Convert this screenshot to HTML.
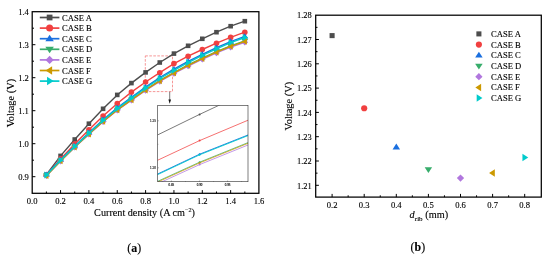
<!DOCTYPE html>
<html><head><meta charset="utf-8"><title>Figure</title>
<style>html,body{margin:0;padding:0;background:#fff;}body{width:550px;height:258px;overflow:hidden;font-family:"Liberation Serif",serif;}</style></head>
<body>
<svg width="550" height="258" viewBox="0 0 550 258" style="display:block">
<rect width="550" height="258" fill="#fff"/>
<rect x="145.3" y="55.9" width="27.2" height="35.7" fill="none" stroke="#f47c7c" stroke-width="0.8" stroke-dasharray="2.6,1.4"/>
<polyline points="46.38,174.60 60.55,155.90 74.73,139.50 88.90,123.70 103.08,108.80 117.25,94.90 131.43,83.10 145.60,72.40 159.78,62.50 173.95,53.60 188.12,45.80 202.30,38.80 216.48,32.20 230.65,26.20 244.82,21.20" fill="none" stroke="#4d4d4d" stroke-width="1.4"/>
<rect x="44.08" y="172.30" width="4.60" height="4.60" fill="#4d4d4d"/>
<rect x="58.25" y="153.60" width="4.60" height="4.60" fill="#4d4d4d"/>
<rect x="72.43" y="137.20" width="4.60" height="4.60" fill="#4d4d4d"/>
<rect x="86.60" y="121.40" width="4.60" height="4.60" fill="#4d4d4d"/>
<rect x="100.78" y="106.50" width="4.60" height="4.60" fill="#4d4d4d"/>
<rect x="114.95" y="92.60" width="4.60" height="4.60" fill="#4d4d4d"/>
<rect x="129.12" y="80.80" width="4.60" height="4.60" fill="#4d4d4d"/>
<rect x="143.30" y="70.10" width="4.60" height="4.60" fill="#4d4d4d"/>
<rect x="157.47" y="60.20" width="4.60" height="4.60" fill="#4d4d4d"/>
<rect x="171.65" y="51.30" width="4.60" height="4.60" fill="#4d4d4d"/>
<rect x="185.82" y="43.50" width="4.60" height="4.60" fill="#4d4d4d"/>
<rect x="200.00" y="36.50" width="4.60" height="4.60" fill="#4d4d4d"/>
<rect x="214.18" y="29.90" width="4.60" height="4.60" fill="#4d4d4d"/>
<rect x="228.35" y="23.90" width="4.60" height="4.60" fill="#4d4d4d"/>
<rect x="242.52" y="18.90" width="4.60" height="4.60" fill="#4d4d4d"/>
<polyline points="46.38,174.80 60.55,158.90 74.73,144.10 88.90,129.80 103.08,116.00 117.25,103.50 131.43,92.10 145.60,82.00 159.78,72.70 173.95,63.60 188.12,56.20 202.30,49.50 216.48,43.20 230.65,37.40 244.82,32.20" fill="none" stroke="#f14040" stroke-width="1.4"/>
<circle cx="46.38" cy="174.80" r="2.80" fill="#f14040"/>
<circle cx="60.55" cy="158.90" r="2.80" fill="#f14040"/>
<circle cx="74.73" cy="144.10" r="2.80" fill="#f14040"/>
<circle cx="88.90" cy="129.80" r="2.80" fill="#f14040"/>
<circle cx="103.08" cy="116.00" r="2.80" fill="#f14040"/>
<circle cx="117.25" cy="103.50" r="2.80" fill="#f14040"/>
<circle cx="131.43" cy="92.10" r="2.80" fill="#f14040"/>
<circle cx="145.60" cy="82.00" r="2.80" fill="#f14040"/>
<circle cx="159.78" cy="72.70" r="2.80" fill="#f14040"/>
<circle cx="173.95" cy="63.60" r="2.80" fill="#f14040"/>
<circle cx="188.12" cy="56.20" r="2.80" fill="#f14040"/>
<circle cx="202.30" cy="49.50" r="2.80" fill="#f14040"/>
<circle cx="216.48" cy="43.20" r="2.80" fill="#f14040"/>
<circle cx="230.65" cy="37.40" r="2.80" fill="#f14040"/>
<circle cx="244.82" cy="32.20" r="2.80" fill="#f14040"/>
<polyline points="46.38,174.72 60.55,160.03 74.73,146.12 88.90,132.83 103.08,119.81 117.25,107.89 131.43,97.37 145.60,87.14 159.78,77.52 173.95,69.20 188.12,61.40 202.30,54.30 216.48,47.70 230.65,41.60 244.82,36.40" fill="none" stroke="#1a6fdf" stroke-width="1.4"/>
<polygon points="46.38,171.50 42.98,176.76 49.77,176.76" fill="#1a6fdf"/>
<polygon points="60.55,156.80 57.15,162.06 63.95,162.06" fill="#1a6fdf"/>
<polygon points="74.73,142.90 71.33,148.16 78.13,148.16" fill="#1a6fdf"/>
<polygon points="88.90,129.60 85.50,134.87 92.30,134.87" fill="#1a6fdf"/>
<polygon points="103.08,116.58 99.67,121.85 106.48,121.85" fill="#1a6fdf"/>
<polygon points="117.25,104.66 113.85,109.93 120.65,109.93" fill="#1a6fdf"/>
<polygon points="131.43,94.14 128.03,99.41 134.83,99.41" fill="#1a6fdf"/>
<polygon points="145.60,83.91 142.20,89.18 149.00,89.18" fill="#1a6fdf"/>
<polygon points="159.78,74.29 156.38,79.56 163.18,79.56" fill="#1a6fdf"/>
<polygon points="173.95,65.97 170.55,71.24 177.35,71.24" fill="#1a6fdf"/>
<polygon points="188.12,58.17 184.72,63.44 191.53,63.44" fill="#1a6fdf"/>
<polygon points="202.30,51.07 198.90,56.34 205.70,56.34" fill="#1a6fdf"/>
<polygon points="216.48,44.47 213.08,49.74 219.88,49.74" fill="#1a6fdf"/>
<polygon points="230.65,38.37 227.25,43.64 234.05,43.64" fill="#1a6fdf"/>
<polygon points="244.82,33.17 241.42,38.44 248.22,38.44" fill="#1a6fdf"/>
<polyline points="46.38,175.55 60.55,160.85 74.73,146.95 88.90,133.93 103.08,121.28 117.25,109.72 131.43,99.57 145.60,89.71 159.78,80.46 173.95,72.50 188.12,64.92 202.30,58.04 216.48,51.66 230.65,45.78 244.82,40.80" fill="none" stroke="#37ad6b" stroke-width="1.4"/>
<polygon points="46.38,178.78 42.98,173.51 49.77,173.51" fill="#37ad6b"/>
<polygon points="60.55,164.08 57.15,158.81 63.95,158.81" fill="#37ad6b"/>
<polygon points="74.73,150.18 71.33,144.91 78.13,144.91" fill="#37ad6b"/>
<polygon points="88.90,137.16 85.50,131.89 92.30,131.89" fill="#37ad6b"/>
<polygon points="103.08,124.51 99.67,119.24 106.48,119.24" fill="#37ad6b"/>
<polygon points="117.25,112.95 113.85,107.68 120.65,107.68" fill="#37ad6b"/>
<polygon points="131.43,102.80 128.03,97.53 134.83,97.53" fill="#37ad6b"/>
<polygon points="145.60,92.94 142.20,87.67 149.00,87.67" fill="#37ad6b"/>
<polygon points="159.78,83.69 156.38,78.42 163.18,78.42" fill="#37ad6b"/>
<polygon points="173.95,75.73 170.55,70.46 177.35,70.46" fill="#37ad6b"/>
<polygon points="188.12,68.15 184.72,62.88 191.53,62.88" fill="#37ad6b"/>
<polygon points="202.30,61.27 198.90,56.00 205.70,56.00" fill="#37ad6b"/>
<polygon points="216.48,54.89 213.08,49.62 219.88,49.62" fill="#37ad6b"/>
<polygon points="230.65,49.01 227.25,43.74 234.05,43.74" fill="#37ad6b"/>
<polygon points="244.82,44.03 241.42,38.76 248.22,38.76" fill="#37ad6b"/>
<polyline points="46.38,175.80 60.55,161.10 74.73,147.20 88.90,134.27 103.08,121.72 117.25,110.28 131.43,100.23 145.60,90.49 159.78,81.34 173.95,73.50 188.12,66.02 202.30,59.24 216.48,52.96 230.65,47.18 244.82,42.30" fill="none" stroke="#b177de" stroke-width="1.4"/>
<polygon points="46.38,172.50 49.67,175.80 46.38,179.10 43.08,175.80" fill="#b177de"/>
<polygon points="60.55,157.80 63.85,161.10 60.55,164.40 57.25,161.10" fill="#b177de"/>
<polygon points="74.73,143.90 78.03,147.20 74.73,150.50 71.43,147.20" fill="#b177de"/>
<polygon points="88.90,130.97 92.20,134.27 88.90,137.57 85.60,134.27" fill="#b177de"/>
<polygon points="103.08,118.42 106.38,121.72 103.08,125.02 99.78,121.72" fill="#b177de"/>
<polygon points="117.25,106.98 120.55,110.28 117.25,113.58 113.95,110.28" fill="#b177de"/>
<polygon points="131.43,96.93 134.73,100.23 131.43,103.53 128.12,100.23" fill="#b177de"/>
<polygon points="145.60,87.19 148.90,90.49 145.60,93.79 142.30,90.49" fill="#b177de"/>
<polygon points="159.78,78.04 163.08,81.34 159.78,84.64 156.47,81.34" fill="#b177de"/>
<polygon points="173.95,70.20 177.25,73.50 173.95,76.80 170.65,73.50" fill="#b177de"/>
<polygon points="188.12,62.72 191.43,66.02 188.12,69.32 184.82,66.02" fill="#b177de"/>
<polygon points="202.30,55.94 205.60,59.24 202.30,62.54 199.00,59.24" fill="#b177de"/>
<polygon points="216.48,49.66 219.78,52.96 216.48,56.26 213.18,52.96" fill="#b177de"/>
<polygon points="230.65,43.88 233.95,47.18 230.65,50.48 227.35,47.18" fill="#b177de"/>
<polygon points="244.82,39.00 248.12,42.30 244.82,45.60 241.52,42.30" fill="#b177de"/>
<polyline points="46.38,175.65 60.55,160.95 74.73,147.05 88.90,134.07 103.08,121.46 117.25,109.94 131.43,99.83 145.60,90.02 159.78,80.81 173.95,72.90 188.12,65.36 202.30,58.52 216.48,52.18 230.65,46.34 244.82,41.40" fill="none" stroke="#cc9900" stroke-width="1.4"/>
<polygon points="43.15,175.65 48.41,172.25 48.41,179.05" fill="#cc9900"/>
<polygon points="57.32,160.95 62.59,157.55 62.59,164.35" fill="#cc9900"/>
<polygon points="71.50,147.05 76.77,143.65 76.77,150.45" fill="#cc9900"/>
<polygon points="85.67,134.07 90.94,130.67 90.94,137.47" fill="#cc9900"/>
<polygon points="99.84,121.46 105.12,118.06 105.12,124.86" fill="#cc9900"/>
<polygon points="114.02,109.94 119.29,106.54 119.29,113.34" fill="#cc9900"/>
<polygon points="128.20,99.83 133.47,96.43 133.47,103.23" fill="#cc9900"/>
<polygon points="142.37,90.02 147.64,86.62 147.64,93.42" fill="#cc9900"/>
<polygon points="156.55,80.81 161.81,77.41 161.81,84.21" fill="#cc9900"/>
<polygon points="170.72,72.90 175.99,69.50 175.99,76.30" fill="#cc9900"/>
<polygon points="184.90,65.36 190.16,61.96 190.16,68.76" fill="#cc9900"/>
<polygon points="199.07,58.52 204.34,55.12 204.34,61.92" fill="#cc9900"/>
<polygon points="213.25,52.18 218.52,48.78 218.52,55.58" fill="#cc9900"/>
<polygon points="227.42,46.34 232.69,42.94 232.69,49.74" fill="#cc9900"/>
<polygon points="241.59,41.40 246.86,38.00 246.86,44.80" fill="#cc9900"/>
<polyline points="46.38,175.00 60.55,160.30 74.73,146.40 88.90,133.20 103.08,120.30 117.25,108.50 131.43,98.10 145.60,88.00 159.78,78.50 173.95,70.30 188.12,62.50 202.30,55.40 216.48,48.80 230.65,42.70 244.82,37.50" fill="none" stroke="#00cbcc" stroke-width="1.4"/>
<polygon points="49.60,175.00 44.34,171.60 44.34,178.40" fill="#00cbcc"/>
<polygon points="63.78,160.30 58.51,156.90 58.51,163.70" fill="#00cbcc"/>
<polygon points="77.96,146.40 72.69,143.00 72.69,149.80" fill="#00cbcc"/>
<polygon points="92.13,133.20 86.86,129.80 86.86,136.60" fill="#00cbcc"/>
<polygon points="106.31,120.30 101.03,116.90 101.03,123.70" fill="#00cbcc"/>
<polygon points="120.48,108.50 115.21,105.10 115.21,111.90" fill="#00cbcc"/>
<polygon points="134.66,98.10 129.39,94.70 129.39,101.50" fill="#00cbcc"/>
<polygon points="148.83,88.00 143.56,84.60 143.56,91.40" fill="#00cbcc"/>
<polygon points="163.00,78.50 157.74,75.10 157.74,81.90" fill="#00cbcc"/>
<polygon points="177.18,70.30 171.91,66.90 171.91,73.70" fill="#00cbcc"/>
<polygon points="191.35,62.50 186.09,59.10 186.09,65.90" fill="#00cbcc"/>
<polygon points="205.53,55.40 200.26,52.00 200.26,58.80" fill="#00cbcc"/>
<polygon points="219.71,48.80 214.44,45.40 214.44,52.20" fill="#00cbcc"/>
<polygon points="233.88,42.70 228.61,39.30 228.61,46.10" fill="#00cbcc"/>
<polygon points="248.05,37.50 242.78,34.10 242.78,40.90" fill="#00cbcc"/>
<line x1="169.7" y1="91.8" x2="169.7" y2="101" stroke="#222" stroke-width="0.6"/>
<polygon points="169.7,103.8 168.4,99.6 171.0,99.6" fill="#111"/>
<rect x="32.2" y="11.7" width="226.70" height="181.60" fill="none" stroke="#000" stroke-width="1.25"/>
<text x="32.20" y="204.2" font-size="8.6" text-anchor="middle" font-family="'Liberation Serif', serif" stroke="#000" stroke-width="0.12">0.0</text>
<line x1="46.38" y1="193.3" x2="46.38" y2="191.5" stroke="#000" stroke-width="1"/>
<line x1="60.55" y1="193.3" x2="60.55" y2="190.10000000000002" stroke="#000" stroke-width="1"/>
<text x="60.55" y="204.2" font-size="8.6" text-anchor="middle" font-family="'Liberation Serif', serif" stroke="#000" stroke-width="0.12">0.2</text>
<line x1="74.73" y1="193.3" x2="74.73" y2="191.5" stroke="#000" stroke-width="1"/>
<line x1="88.90" y1="193.3" x2="88.90" y2="190.10000000000002" stroke="#000" stroke-width="1"/>
<text x="88.90" y="204.2" font-size="8.6" text-anchor="middle" font-family="'Liberation Serif', serif" stroke="#000" stroke-width="0.12">0.4</text>
<line x1="103.08" y1="193.3" x2="103.08" y2="191.5" stroke="#000" stroke-width="1"/>
<line x1="117.25" y1="193.3" x2="117.25" y2="190.10000000000002" stroke="#000" stroke-width="1"/>
<text x="117.25" y="204.2" font-size="8.6" text-anchor="middle" font-family="'Liberation Serif', serif" stroke="#000" stroke-width="0.12">0.6</text>
<line x1="131.43" y1="193.3" x2="131.43" y2="191.5" stroke="#000" stroke-width="1"/>
<line x1="145.60" y1="193.3" x2="145.60" y2="190.10000000000002" stroke="#000" stroke-width="1"/>
<text x="145.60" y="204.2" font-size="8.6" text-anchor="middle" font-family="'Liberation Serif', serif" stroke="#000" stroke-width="0.12">0.8</text>
<line x1="159.78" y1="193.3" x2="159.78" y2="191.5" stroke="#000" stroke-width="1"/>
<line x1="173.95" y1="193.3" x2="173.95" y2="190.10000000000002" stroke="#000" stroke-width="1"/>
<text x="173.95" y="204.2" font-size="8.6" text-anchor="middle" font-family="'Liberation Serif', serif" stroke="#000" stroke-width="0.12">1.0</text>
<line x1="188.12" y1="193.3" x2="188.12" y2="191.5" stroke="#000" stroke-width="1"/>
<line x1="202.30" y1="193.3" x2="202.30" y2="190.10000000000002" stroke="#000" stroke-width="1"/>
<text x="202.30" y="204.2" font-size="8.6" text-anchor="middle" font-family="'Liberation Serif', serif" stroke="#000" stroke-width="0.12">1.2</text>
<line x1="216.48" y1="193.3" x2="216.48" y2="191.5" stroke="#000" stroke-width="1"/>
<line x1="230.65" y1="193.3" x2="230.65" y2="190.10000000000002" stroke="#000" stroke-width="1"/>
<text x="230.65" y="204.2" font-size="8.6" text-anchor="middle" font-family="'Liberation Serif', serif" stroke="#000" stroke-width="0.12">1.4</text>
<line x1="244.83" y1="193.3" x2="244.83" y2="191.5" stroke="#000" stroke-width="1"/>
<text x="259.00" y="204.2" font-size="8.6" text-anchor="middle" font-family="'Liberation Serif', serif" stroke="#000" stroke-width="0.12">1.6</text>
<line x1="32.2" y1="176.70" x2="35.400000000000006" y2="176.70" stroke="#000" stroke-width="1"/>
<text x="28.9" y="179.60" font-size="8.6" text-anchor="end" font-family="'Liberation Serif', serif" stroke="#000" stroke-width="0.12">0.9</text>
<line x1="32.2" y1="160.20" x2="34.0" y2="160.20" stroke="#000" stroke-width="1"/>
<line x1="32.2" y1="143.70" x2="35.400000000000006" y2="143.70" stroke="#000" stroke-width="1"/>
<text x="28.9" y="146.60" font-size="8.6" text-anchor="end" font-family="'Liberation Serif', serif" stroke="#000" stroke-width="0.12">1.0</text>
<line x1="32.2" y1="127.20" x2="34.0" y2="127.20" stroke="#000" stroke-width="1"/>
<line x1="32.2" y1="110.70" x2="35.400000000000006" y2="110.70" stroke="#000" stroke-width="1"/>
<text x="28.9" y="113.60" font-size="8.6" text-anchor="end" font-family="'Liberation Serif', serif" stroke="#000" stroke-width="0.12">1.1</text>
<line x1="32.2" y1="94.20" x2="34.0" y2="94.20" stroke="#000" stroke-width="1"/>
<line x1="32.2" y1="77.70" x2="35.400000000000006" y2="77.70" stroke="#000" stroke-width="1"/>
<text x="28.9" y="80.60" font-size="8.6" text-anchor="end" font-family="'Liberation Serif', serif" stroke="#000" stroke-width="0.12">1.2</text>
<line x1="32.2" y1="61.20" x2="34.0" y2="61.20" stroke="#000" stroke-width="1"/>
<line x1="32.2" y1="44.70" x2="35.400000000000006" y2="44.70" stroke="#000" stroke-width="1"/>
<text x="28.9" y="47.60" font-size="8.6" text-anchor="end" font-family="'Liberation Serif', serif" stroke="#000" stroke-width="0.12">1.3</text>
<line x1="32.2" y1="28.20" x2="34.0" y2="28.20" stroke="#000" stroke-width="1"/>
<text x="28.9" y="14.60" font-size="8.6" text-anchor="end" font-family="'Liberation Serif', serif" stroke="#000" stroke-width="0.12">1.4</text>
<text x="94.1" y="216.0" font-size="10.2" font-family="'Liberation Serif', serif" stroke="#000" stroke-width="0.12">Current density (A cm<tspan font-size="6.2" dy="-4">−2</tspan><tspan dy="4">)</tspan></text>
<text transform="translate(13.6,103.1) rotate(-90)" font-size="10.35" text-anchor="middle" font-family="'Liberation Serif', serif" stroke="#000" stroke-width="0.12">Voltage (V)</text>
<line x1="39.8" y1="17.50" x2="59.4" y2="17.50" stroke="#4d4d4d" stroke-width="1.7"/>
<rect x="46.73" y="14.62" width="5.75" height="5.75" fill="#4d4d4d"/>
<text x="62" y="20.50" font-size="8.6" font-family="'Liberation Serif', serif" stroke="#000" stroke-width="0.12">CASE A</text>
<line x1="39.8" y1="28.10" x2="59.4" y2="28.10" stroke="#f14040" stroke-width="1.7"/>
<circle cx="49.60" cy="28.10" r="3.50" fill="#f14040"/>
<text x="62" y="31.10" font-size="8.6" font-family="'Liberation Serif', serif" stroke="#000" stroke-width="0.12">CASE B</text>
<line x1="39.8" y1="38.70" x2="59.4" y2="38.70" stroke="#1a6fdf" stroke-width="1.7"/>
<polygon points="49.60,34.66 45.35,41.25 53.85,41.25" fill="#1a6fdf"/>
<text x="62" y="41.70" font-size="8.6" font-family="'Liberation Serif', serif" stroke="#000" stroke-width="0.12">CASE C</text>
<line x1="39.8" y1="49.30" x2="59.4" y2="49.30" stroke="#37ad6b" stroke-width="1.7"/>
<polygon points="49.60,53.34 45.35,46.75 53.85,46.75" fill="#37ad6b"/>
<text x="62" y="52.30" font-size="8.6" font-family="'Liberation Serif', serif" stroke="#000" stroke-width="0.12">CASE D</text>
<line x1="39.8" y1="59.90" x2="59.4" y2="59.90" stroke="#b177de" stroke-width="1.7"/>
<polygon points="49.60,55.77 53.73,59.90 49.60,64.03 45.48,59.90" fill="#b177de"/>
<text x="62" y="62.90" font-size="8.6" font-family="'Liberation Serif', serif" stroke="#000" stroke-width="0.12">CASE E</text>
<line x1="39.8" y1="70.50" x2="59.4" y2="70.50" stroke="#cc9900" stroke-width="1.7"/>
<polygon points="45.56,70.50 52.15,66.25 52.15,74.75" fill="#cc9900"/>
<text x="62" y="73.50" font-size="8.6" font-family="'Liberation Serif', serif" stroke="#000" stroke-width="0.12">CASE F</text>
<line x1="39.8" y1="81.10" x2="59.4" y2="81.10" stroke="#00cbcc" stroke-width="1.7"/>
<polygon points="53.64,81.10 47.05,76.85 47.05,85.35" fill="#00cbcc"/>
<text x="62" y="84.10" font-size="8.6" font-family="'Liberation Serif', serif" stroke="#000" stroke-width="0.12">CASE G</text>
<rect x="157.7" y="105.4" width="90.30" height="76.30" fill="#fff" stroke="none"/>
<clipPath id="ic"><rect x="157.7" y="105.4" width="90.30" height="76.30"/></clipPath>
<g clip-path="url(#ic)">
<polyline points="152.70,137.33 199.60,114.40 253.00,89.30" fill="none" stroke="#4d4d4d" stroke-width="0.75"/>
<polyline points="152.70,162.55 199.60,140.60 253.00,118.12" fill="none" stroke="#f14040" stroke-width="0.75"/>
<polyline points="152.70,176.34 199.60,154.20 253.00,133.00" fill="none" stroke="#1a6fdf" stroke-width="0.9"/>
<polyline points="152.70,176.94 199.60,154.80 253.00,133.60" fill="none" stroke="#00cbcc" stroke-width="0.9"/>
<polyline points="152.70,183.59 199.60,162.20 253.00,140.57" fill="none" stroke="#37ad6b" stroke-width="0.75"/>
<polyline points="152.70,184.29 199.60,162.90 253.00,141.27" fill="none" stroke="#cc9900" stroke-width="0.75"/>
<polyline points="152.70,185.99 199.60,164.60 253.00,142.97" fill="none" stroke="#b177de" stroke-width="0.75"/>
<circle cx="199.6" cy="114.4" r="1.0" fill="#4d4d4d"/>
<circle cx="199.6" cy="140.6" r="1.0" fill="#f14040"/>
<circle cx="199.6" cy="154.2" r="1.0" fill="#1a6fdf"/>
<circle cx="199.6" cy="154.8" r="1.0" fill="#00cbcc"/>
<circle cx="199.6" cy="162.2" r="1.0" fill="#37ad6b"/>
<circle cx="199.6" cy="162.9" r="1.0" fill="#cc9900"/>
<circle cx="199.6" cy="164.6" r="1.0" fill="#b177de"/>
</g>
<rect x="157.7" y="105.4" width="90.30" height="76.30" fill="none" stroke="#2a2a2a" stroke-width="0.6"/>
<line x1="185.5" y1="181.7" x2="185.5" y2="181.0" stroke="#333" stroke-width="0.4"/>
<line x1="213.6" y1="181.7" x2="213.6" y2="181.0" stroke="#333" stroke-width="0.4"/>
<line x1="241.6" y1="181.7" x2="241.6" y2="181.0" stroke="#333" stroke-width="0.4"/>
<line x1="157.7" y1="144.3" x2="158.39999999999998" y2="144.3" stroke="#333" stroke-width="0.4"/>
<line x1="171.4" y1="181.7" x2="171.4" y2="180.5" stroke="#333" stroke-width="0.4"/>
<text x="171.4" y="186" font-size="3.3" text-anchor="middle" fill="#222" font-family="'Liberation Serif', serif" stroke="#000" stroke-width="0.12">0.85</text>
<line x1="199.6" y1="181.7" x2="199.6" y2="180.5" stroke="#333" stroke-width="0.4"/>
<text x="199.6" y="186" font-size="3.3" text-anchor="middle" fill="#222" font-family="'Liberation Serif', serif" stroke="#000" stroke-width="0.12">0.90</text>
<line x1="227.6" y1="181.7" x2="227.6" y2="180.5" stroke="#333" stroke-width="0.4"/>
<text x="227.6" y="186" font-size="3.3" text-anchor="middle" fill="#222" font-family="'Liberation Serif', serif" stroke="#000" stroke-width="0.12">0.95</text>
<line x1="157.7" y1="120.8" x2="158.89999999999998" y2="120.8" stroke="#333" stroke-width="0.4"/>
<text x="155.8" y="121.8" font-size="3.3" text-anchor="end" fill="#222" font-family="'Liberation Serif', serif" stroke="#000" stroke-width="0.12">1.25</text>
<line x1="157.7" y1="167.8" x2="158.89999999999998" y2="167.8" stroke="#333" stroke-width="0.4"/>
<text x="155.8" y="168.8" font-size="3.3" text-anchor="end" fill="#222" font-family="'Liberation Serif', serif" stroke="#000" stroke-width="0.12">1.20</text>
<text x="134.3" y="251.7" font-size="11.9" text-anchor="middle" font-family="'Liberation Serif', serif" stroke="#000" stroke-width="0.12">(<tspan font-weight="bold">a</tspan>)</text>
<rect x="315.7" y="15.2" width="225.60" height="181.90" fill="none" stroke="#000" stroke-width="1.25"/>
<line x1="332.10" y1="197.1" x2="332.10" y2="193.9" stroke="#000" stroke-width="1"/>
<text x="332.10" y="208.2" font-size="8.6" text-anchor="middle" font-family="'Liberation Serif', serif" stroke="#000" stroke-width="0.12">0.2</text>
<line x1="348.15" y1="197.1" x2="348.15" y2="195.29999999999998" stroke="#000" stroke-width="1"/>
<line x1="364.20" y1="197.1" x2="364.20" y2="193.9" stroke="#000" stroke-width="1"/>
<text x="364.20" y="208.2" font-size="8.6" text-anchor="middle" font-family="'Liberation Serif', serif" stroke="#000" stroke-width="0.12">0.3</text>
<line x1="380.25" y1="197.1" x2="380.25" y2="195.29999999999998" stroke="#000" stroke-width="1"/>
<line x1="396.30" y1="197.1" x2="396.30" y2="193.9" stroke="#000" stroke-width="1"/>
<text x="396.30" y="208.2" font-size="8.6" text-anchor="middle" font-family="'Liberation Serif', serif" stroke="#000" stroke-width="0.12">0.4</text>
<line x1="412.35" y1="197.1" x2="412.35" y2="195.29999999999998" stroke="#000" stroke-width="1"/>
<line x1="428.40" y1="197.1" x2="428.40" y2="193.9" stroke="#000" stroke-width="1"/>
<text x="428.40" y="208.2" font-size="8.6" text-anchor="middle" font-family="'Liberation Serif', serif" stroke="#000" stroke-width="0.12">0.5</text>
<line x1="444.45" y1="197.1" x2="444.45" y2="195.29999999999998" stroke="#000" stroke-width="1"/>
<line x1="460.50" y1="197.1" x2="460.50" y2="193.9" stroke="#000" stroke-width="1"/>
<text x="460.50" y="208.2" font-size="8.6" text-anchor="middle" font-family="'Liberation Serif', serif" stroke="#000" stroke-width="0.12">0.6</text>
<line x1="476.55" y1="197.1" x2="476.55" y2="195.29999999999998" stroke="#000" stroke-width="1"/>
<line x1="492.60" y1="197.1" x2="492.60" y2="193.9" stroke="#000" stroke-width="1"/>
<text x="492.60" y="208.2" font-size="8.6" text-anchor="middle" font-family="'Liberation Serif', serif" stroke="#000" stroke-width="0.12">0.7</text>
<line x1="508.65" y1="197.1" x2="508.65" y2="195.29999999999998" stroke="#000" stroke-width="1"/>
<line x1="524.70" y1="197.1" x2="524.70" y2="193.9" stroke="#000" stroke-width="1"/>
<text x="524.70" y="208.2" font-size="8.6" text-anchor="middle" font-family="'Liberation Serif', serif" stroke="#000" stroke-width="0.12">0.8</text>
<line x1="315.7" y1="185.30" x2="318.9" y2="185.30" stroke="#000" stroke-width="1"/>
<text x="311.7" y="188.50" font-size="8.4" text-anchor="end" font-family="'Liberation Serif', serif" stroke="#000" stroke-width="0.12">1.21</text>
<line x1="315.7" y1="173.15" x2="317.5" y2="173.15" stroke="#000" stroke-width="1"/>
<line x1="315.7" y1="161.00" x2="318.9" y2="161.00" stroke="#000" stroke-width="1"/>
<text x="311.7" y="164.20" font-size="8.4" text-anchor="end" font-family="'Liberation Serif', serif" stroke="#000" stroke-width="0.12">1.22</text>
<line x1="315.7" y1="148.85" x2="317.5" y2="148.85" stroke="#000" stroke-width="1"/>
<line x1="315.7" y1="136.70" x2="318.9" y2="136.70" stroke="#000" stroke-width="1"/>
<text x="311.7" y="139.90" font-size="8.4" text-anchor="end" font-family="'Liberation Serif', serif" stroke="#000" stroke-width="0.12">1.23</text>
<line x1="315.7" y1="124.55" x2="317.5" y2="124.55" stroke="#000" stroke-width="1"/>
<line x1="315.7" y1="112.40" x2="318.9" y2="112.40" stroke="#000" stroke-width="1"/>
<text x="311.7" y="115.60" font-size="8.4" text-anchor="end" font-family="'Liberation Serif', serif" stroke="#000" stroke-width="0.12">1.24</text>
<line x1="315.7" y1="100.25" x2="317.5" y2="100.25" stroke="#000" stroke-width="1"/>
<line x1="315.7" y1="88.10" x2="318.9" y2="88.10" stroke="#000" stroke-width="1"/>
<text x="311.7" y="91.30" font-size="8.4" text-anchor="end" font-family="'Liberation Serif', serif" stroke="#000" stroke-width="0.12">1.25</text>
<line x1="315.7" y1="75.95" x2="317.5" y2="75.95" stroke="#000" stroke-width="1"/>
<line x1="315.7" y1="63.80" x2="318.9" y2="63.80" stroke="#000" stroke-width="1"/>
<text x="311.7" y="67.00" font-size="8.4" text-anchor="end" font-family="'Liberation Serif', serif" stroke="#000" stroke-width="0.12">1.26</text>
<line x1="315.7" y1="51.65" x2="317.5" y2="51.65" stroke="#000" stroke-width="1"/>
<line x1="315.7" y1="39.50" x2="318.9" y2="39.50" stroke="#000" stroke-width="1"/>
<text x="311.7" y="42.70" font-size="8.4" text-anchor="end" font-family="'Liberation Serif', serif" stroke="#000" stroke-width="0.12">1.27</text>
<line x1="315.7" y1="27.35" x2="317.5" y2="27.35" stroke="#000" stroke-width="1"/>
<text x="311.7" y="18.40" font-size="8.4" text-anchor="end" font-family="'Liberation Serif', serif" stroke="#000" stroke-width="0.12">1.28</text>
<rect x="329.57" y="33.08" width="5.06" height="5.06" fill="#4d4d4d"/>
<circle cx="364.20" cy="108.27" r="3.08" fill="#f14040"/>
<polygon points="396.30,143.60 392.56,149.39 400.04,149.39" fill="#1a6fdf"/>
<polygon points="428.40,173.06 424.66,167.26 432.14,167.26" fill="#37ad6b"/>
<polygon points="460.50,174.38 464.13,178.01 460.50,181.64 456.87,178.01" fill="#b177de"/>
<polygon points="489.05,172.91 494.84,169.17 494.84,176.65" fill="#cc9900"/>
<polygon points="528.25,157.60 522.46,153.86 522.46,161.34" fill="#00cbcc"/>
<rect x="476.37" y="31.37" width="5.06" height="5.06" fill="#4d4d4d"/>
<text x="491" y="36.90" font-size="8.6" font-family="'Liberation Serif', serif" stroke="#000" stroke-width="0.12">CASE A</text>
<circle cx="478.90" cy="44.60" r="3.08" fill="#f14040"/>
<text x="491" y="47.60" font-size="8.6" font-family="'Liberation Serif', serif" stroke="#000" stroke-width="0.12">CASE B</text>
<polygon points="478.90,51.75 475.16,57.54 482.64,57.54" fill="#1a6fdf"/>
<text x="491" y="58.30" font-size="8.6" font-family="'Liberation Serif', serif" stroke="#000" stroke-width="0.12">CASE C</text>
<polygon points="478.90,69.55 475.16,63.76 482.64,63.76" fill="#37ad6b"/>
<text x="491" y="69.00" font-size="8.6" font-family="'Liberation Serif', serif" stroke="#000" stroke-width="0.12">CASE D</text>
<polygon points="478.90,73.07 482.53,76.70 478.90,80.33 475.27,76.70" fill="#b177de"/>
<text x="491" y="79.70" font-size="8.6" font-family="'Liberation Serif', serif" stroke="#000" stroke-width="0.12">CASE E</text>
<polygon points="475.35,87.40 481.14,83.66 481.14,91.14" fill="#cc9900"/>
<text x="491" y="90.40" font-size="8.6" font-family="'Liberation Serif', serif" stroke="#000" stroke-width="0.12">CASE F</text>
<polygon points="482.45,98.10 476.66,94.36 476.66,101.84" fill="#00cbcc"/>
<text x="491" y="101.10" font-size="8.6" font-family="'Liberation Serif', serif" stroke="#000" stroke-width="0.12">CASE G</text>
<text x="409.4" y="218.3" font-size="10.3" font-family="'Liberation Serif', serif" stroke="#000" stroke-width="0.12"><tspan font-style="italic">d</tspan><tspan font-size="7.0" dy="2.5" dx="0.3">rib</tspan><tspan dy="-2.5"> (mm)</tspan></text>
<text transform="translate(292.0,106.1) rotate(-90)" font-size="10.45" text-anchor="middle" font-family="'Liberation Serif', serif" stroke="#000" stroke-width="0.12">Voltage (V)</text>
<text x="417.9" y="250.7" font-size="11.9" text-anchor="middle" font-family="'Liberation Serif', serif" stroke="#000" stroke-width="0.12">(<tspan font-weight="bold">b</tspan>)</text>
</svg>
</body></html>
